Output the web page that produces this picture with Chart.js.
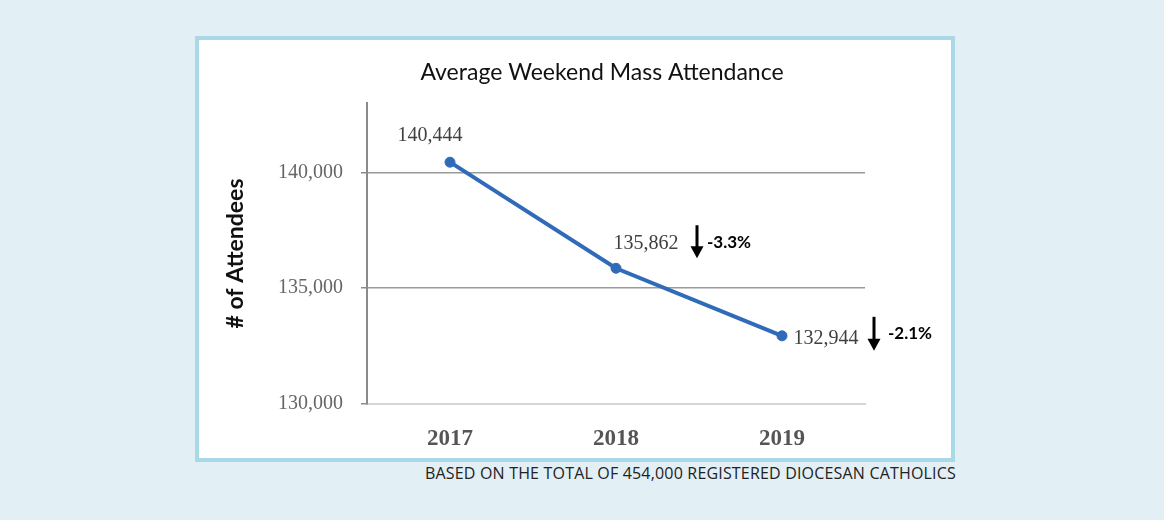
<!DOCTYPE html>
<html>
<head>
<meta charset="utf-8">
<script src="https://cdn.jsdelivr.net/npm/chart.js@4"></script>
<style>
  body { margin: 0; background: #e2eff5; width: 1164px; height: 520px; position: relative; overflow: hidden; }
  #box { position: absolute; left: 195px; top: 36px; width: 752px; height: 418px; border: 4px solid #a9d8e7; background: #fff; }
  #note { position: absolute; left: 425px; top: 462px; font-family: "Open Sans", sans-serif; font-size: 16px; line-height: 22px; letter-spacing: 0.18px; color: #222; white-space: nowrap; }
</style>
</head>
<body>
<div id="box"><canvas id="massChart"></canvas></div>
<div id="note">BASED ON THE TOTAL OF 454,000 REGISTERED DIOCESAN CATHOLICS</div>
<script>
const years = ['2017', '2018', '2019'];
const attendance = [140444, 135862, 132944];
const changes = [null, '-3.3%', '-2.1%'];
const yTicks = [130000, 135000, 140000];
const chartTitle = 'Average Weekend Mass Attendance';

// title, value labels and down arrows
const annotate = {
    id: 'annotate',
    afterDraw(chart) {
        const c = chart.ctx;
        const x = chart.scales.x, y = chart.scales.y;
        const labelOffsets = [[-20, -26], [30, -25], [44, 3]];
        const arrowOffsets = [null, [81, -43, -10, 91], [92, -19, 15, 106]];
        c.save();
        c.font = '23px Lato, sans-serif';
        c.fillStyle = '#111';
        c.textAlign = 'center';
        c.textBaseline = 'middle';
        c.fillText(chartTitle, 403, 33);
        attendance.forEach((v, i) => {
            const px = x.getPixelForValue(i), py = y.getPixelForValue(v);
            c.font = '20px "Liberation Serif", serif';
            c.fillStyle = '#404040';
            c.textAlign = 'center';
            c.fillText(v.toLocaleString('en-US'), px + labelOffsets[i][0], py + labelOffsets[i][1]);
            if (changes[i]) {
                const a = arrowOffsets[i];
                const ax = px + a[0], top = py + a[1], bot = py + a[2];
                c.fillStyle = '#000';
                c.fillRect(ax - 1.5, top, 3, bot - top - 10);
                c.beginPath();
                c.moveTo(ax - 6.5, bot - 12);
                c.lineTo(ax + 6.5, bot - 12);
                c.lineTo(ax, bot);
                c.closePath();
                c.fill();
                c.font = 'bold 17px Lato, sans-serif';
                c.textAlign = 'left';
                c.fillText(changes[i], px + a[3], top + 17);
            }
        });
        c.restore();
    }
};

const ctx = document.getElementById('massChart').getContext('2d');
const massChart = new Chart(ctx, {
    type: 'line',
    data: {
        labels: years,
        datasets: [{
            data: attendance,
            borderColor: '#2f6bb8',
            backgroundColor: '#2f6bb8',
            borderWidth: 4,
            pointRadius: 5,
            pointBorderWidth: 1,
            tension: 0
        }]
    },
    options: {
        responsive: true,
        maintainAspectRatio: false,
        animation: false,
        layout: { padding: { left: 0, right: 86, top: 63, bottom: 0 } },
        plugins: {
            legend: { display: false },
            tooltip: { enabled: false },
            title: { display: false }
        },
        scales: {
            x: {
                offset: true,
                grid: { display: false, drawTicks: false },
                border: { color: '#d6d6d6', width: 2 },
                ticks: {
                    color: '#555',
                    padding: 21,
                    font: { family: '"Liberation Serif", serif', size: 23, weight: 'bold' }
                },
                afterFit(scale) { scale.height = 54; }
            },
            y: {
                min: 130000,
                max: 143000,
                afterBuildTicks(scale) { scale.ticks = yTicks.map(v => ({ value: v })); },
                grid: {
                    color: c => c.tick && c.tick.value === 130000 ? '#d6d6d6' : '#9a9a9a',
                    lineWidth: 1.5,
                    tickLength: 6,
                    tickColor: '#8a8a8a'
                },
                border: { color: '#8a8a8a', width: 2 },
                ticks: {
                    color: '#666',
                    padding: 18,
                    font: { family: '"Liberation Serif", serif', size: 20 },
                    callback: v => v.toLocaleString('en-US')
                },
                title: {
                    display: true,
                    text: '# of Attendees',
                    color: '#111',
                    font: { family: 'Lato, sans-serif', size: 23, weight: 'bold' },
                    padding: { top: 23, bottom: 0 }
                },
                afterFit(scale) { scale.width = 168; }
            }
        }
    },
    plugins: [annotate]
});
</script>
</body>
</html>
